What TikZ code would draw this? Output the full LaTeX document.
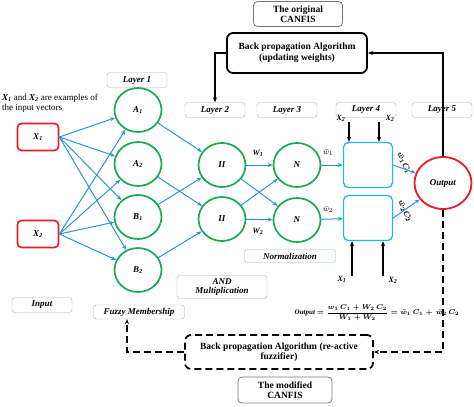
\documentclass[tikz,border=0pt]{standalone}
\usepackage{amsmath}
\usepackage{fontspec}
\setmainfont{Liberation Serif}
\usetikzlibrary{arrows.meta,shapes.geometric}

\definecolor{netblue}{RGB}{45,150,210}
\definecolor{netgreen}{RGB}{25,170,80}
\definecolor{netred}{RGB}{230,30,40}
\definecolor{netcyan}{RGB}{40,180,235}
\definecolor{tagline}{RGB}{160,180,200}
\definecolor{capline}{RGB}{120,120,120}

\newcommand{\bitxt}[1]{\textbf{\textit{#1}}}

\begin{document}
\begin{tikzpicture}[x=1pt,y=-1pt,>={Stealth[length=5pt,width=4pt]},
	neuron/.style={draw=netgreen,line width=1.7pt,ellipse,minimum width=47pt,minimum height=44pt,font=\fontsize{9}{10}\selectfont},
	inbox/.style={draw=netred,line width=1.7pt,rounded corners=4pt,minimum width=41pt,minimum height=27pt,font=\fontsize{9}{10}\selectfont},
	cellbox/.style={draw=netcyan,line width=1.3pt,rounded corners=5pt,minimum width=49pt,minimum height=45pt},
	tag/.style={draw=tagline,rounded corners=3pt,minimum width=60pt,minimum height=15pt,inner sep=1pt,font=\bfseries\itshape\fontsize{9}{10}\selectfont},
	capbox/.style={draw=capline,line width=0.8pt,rounded corners=4pt,align=center,inner sep=1pt,font=\bfseries\fontsize{9.5}{10.5}\selectfont},
	feed/.style={netblue,line width=1pt},
	thickline/.style={line width=1.8pt},
	dashline/.style={line width=1.8pt,dash pattern=on 7pt off 4pt},
	small/.style={font=\fontsize{8}{9}\selectfont}]
	\useasboundingbox (0,0) rectangle (474,407);

	\node[capbox,minimum width=89pt,minimum height=25pt] at (298,14) (orig) {The original\\CANFIS};
	\node[capbox,thickline,draw=black,rounded corners=6pt,minimum width=140pt,minimum height=40pt] at (297,53) (bpt) {Back propagation Algorithm\\(updating weights)};

	\node[tag] at (137,80) (lay1) {Layer 1};
	\node[tag] at (215,110) (lay2) {Layer 2};
	\node[tag] at (287,110) (lay3) {Layer 3};
	\node[tag] at (366,110) (lay4) {Layer 4};
	\node[tag] at (442,110) (lay5) {Layer 5};

	\node[anchor=north west,align=left,inner sep=0pt,font=\fontsize{9}{10}\selectfont] at (2,94) (note) {\bitxt{X\textsubscript{1}} and \bitxt{X\textsubscript{2}} are examples of\\the input vectors};

	\node[inbox] at (38,137) (x1) {\bitxt{X\textsubscript{1}}};
	\node[inbox] at (38,234) (x2) {\bitxt{X\textsubscript{2}}};

	\node[neuron] at (138,110) (a1) {\bitxt{A\textsubscript{1}}};
	\node[neuron] at (138,164) (a2) {\bitxt{A\textsubscript{2}}};
	\node[neuron] at (138,217) (b1) {\bitxt{B\textsubscript{1}}};
	\node[neuron] at (138,270) (b2) {\bitxt{B\textsubscript{2}}};

	\node[neuron] at (222,165) (p1) {\bitxt{II}};
	\node[neuron] at (222,219) (p2) {\bitxt{II}};

	\node[neuron] at (297,165) (n1) {\bitxt{N}};
	\node[neuron] at (297,220) (n2) {\bitxt{N}};

	\node[cellbox] at (368,165) (c1) {};
	\node[cellbox] at (368,218) (c2) {};

	\node[draw=netred,line width=1.8pt,ellipse,minimum width=57pt,minimum height=52pt,font=\fontsize{9}{10}\selectfont] at (443,183) (out) {\bitxt{Output}};

	\node[small] at (258,153) (lw1) {\bitxt{W\textsubscript{1}}};
	\node[small] at (258,231) (lw2) {\bitxt{W\textsubscript{2}}};
	\node[small] at (328,153) (lv1) {$\bar{w}_1$};
	\node[small] at (328,210) (lv2) {$\bar{w}_2$};
	\node[small,rotate=-65] at (404,163) (lc1) {$\boldsymbol{\bar{w}_1 C_1}$};
	\node[small,rotate=-65] at (405,211) (lc2) {$\boldsymbol{\bar{w}_2 C_2}$};

	\node[small] at (341,118) (tx1) {\bitxt{X\textsubscript{2}}};
	\node[small] at (390,118) (tx2) {\bitxt{X\textsubscript{2}}};
	\node[small] at (342,279) (bx1) {\bitxt{X\textsubscript{1}}};
	\node[small] at (393,280) (bx2) {\bitxt{X\textsubscript{2}}};
	\coordinate (t1) at (349,122);
	\coordinate (t2) at (379,122);
	\coordinate (u1) at (352,276);
	\coordinate (u2) at (383,276);

	\node[tag,minimum width=91pt,minimum height=13pt] at (290,256) (norm) {Normalization};
	\node[tag,align=center,minimum width=90pt,minimum height=23pt,font=\bfseries\itshape\fontsize{9}{9.5}\selectfont] at (222,287) (andm) {AND\\Multiplication};
	\node[tag] at (42,305) (inp) {Input};
	\node[tag,minimum width=91pt,minimum height=14pt] at (139,312) (fuzzy) {Fuzzy Membership};

	\node[font=\fontsize{7}{8}\selectfont] at (377,313) (formula) {\bitxt{Output} $\boldsymbol{=\dfrac{w_1\,C_1+W_2\,C_2}{W_1+W_2}=\bar{w}_1\,C_1+\,\bar{w}_2\,C_2}$};

	\node[capbox,dashline,draw=black,rounded corners=6pt,minimum width=188pt,minimum height=34pt] at (279,352) (bpb) {Back propagation Algorithm (re-active\\fuzzifier)};
	\node[capbox,minimum width=94pt,minimum height=26pt] at (285,390) (modi) {The modified\\CANFIS};

	\draw[feed,->] (x1.east) -- (a1);
	\draw[feed,->] (x1.east) -- (a2);
	\draw[feed,->] (x1.east) -- (b1);
	\draw[feed,->] (x1.east) -- (b2);
	\draw[feed,->] (x2.east) -- (a1);
	\draw[feed,->] (x2.east) -- (a2);
	\draw[feed,->] (x2.east) -- (b1);
	\draw[feed,->] (x2.east) -- (b2);

	\draw[feed,->] (a1) -- (p1);
	\draw[feed,->] (a2) -- (p2);
	\draw[feed,->] (b1) -- (p1);
	\draw[feed,->] (b2) -- (p2);

	\draw[feed,->] (p1) -- (n1);
	\draw[feed,->] (p1) -- (n2);
	\draw[feed,->] (p2) -- (n1);
	\draw[feed,->] (p2) -- (n2);

	\draw[feed,->] (n1) -- (c1);
	\draw[feed,->] (n2) -- (c2);
	\draw[feed,->] (c1.east) -- (out);
	\draw[feed,->] (c2.east) -- (out);

	\draw[thickline,->] (t1) -- (t1 |- c1.north);
	\draw[thickline,->] (t2) -- (t2 |- c1.north);
	\draw[thickline,->] (u1) -- (u1 |- c2.south);
	\draw[thickline,->] (u2) -- (u2 |- c2.south);

	\draw[thickline,->] (out.north) |- (bpt.east);
	\draw[thickline,->] (bpt.west) -| (lay2.north);

	\draw[dashline,->] (out.south) |- (bpb.east);
	\draw[dashline,->] (bpb.west) -| ([xshift=-12pt]fuzzy.south);
\end{tikzpicture}
\end{document}
